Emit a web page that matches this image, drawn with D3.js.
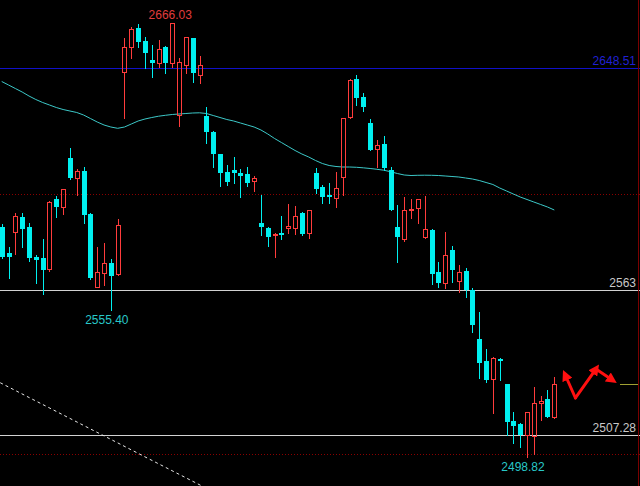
<!DOCTYPE html>
<html>
<head>
<meta charset="utf-8">
<script src="https://cdn.jsdelivr.net/npm/d3@7"></script>
<style>
  body { margin: 0; background: #000; overflow: hidden; }
  svg { display: block; }
</style>
</head>
<body>
<svg class="kchart"></svg>
<script>
var width = 640
var height = 486

// candle data, one entry per bar (left to right)
var opens = [2587.38, 2577.13, 2585.45, 2591.23, 2587.26, 2575.59, 2575.44, 2570.97, 2597.93, 2594.85,
  2613.72, 2606.02, 2608.95, 2592.27, 2564.27, 2569.66, 2573.28, 2569.16, 2647.08, 2656.71,
  2663.80, 2659.02, 2651.59, 2650.32, 2656.71, 2650.32, 2630.40, 2649.66, 2659.95, 2645.81,
  2630.02, 2623.97, 2615.38, 2608.56, 2609.22, 2608.18, 2607.68, 2605.10, 2588.92, 2586.76,
  2584.07, 2584.83, 2586.99, 2586.99, 2592.77, 2584.83, 2608.18, 2602.78, 2599.59, 2598.32,
  2606.64, 2629.52, 2644.27, 2637.22, 2627.44, 2617.31, 2619.12, 2609.22, 2587.15, 2582.64,
  2593.81, 2594.46, 2583.53, 2586.11, 2569.81, 2565.81, 2578.40, 2566.58, 2570.31, 2562.99,
  2544.12, 2535.65, 2528.60, 2536.30, 2526.67, 2512.65, 2511.26, 2507.14, 2506.87, 2519.35,
  2520.89, 2513.96]
var highs = [2588.42, 2579.56, 2592.65, 2592.65, 2588.80, 2576.48, 2582.76, 2597.39, 2599.32, 2602.01,
  2617.58, 2609.60, 2610.26, 2592.65, 2579.44, 2580.98, 2574.82, 2590.23, 2660.18, 2664.18,
  2665.46, 2660.33, 2657.37, 2659.29, 2656.79, 2666.03, 2652.36, 2660.45, 2660.06, 2653.13,
  2633.60, 2624.24, 2615.57, 2611.14, 2614.11, 2609.49, 2610.49, 2606.91, 2599.59, 2587.38,
  2584.83, 2591.50, 2596.12, 2595.35, 2592.85, 2593.89, 2609.87, 2603.44, 2604.09, 2608.56,
  2629.25, 2644.15, 2645.81, 2638.99, 2628.75, 2620.77, 2622.31, 2610.49, 2595.74, 2598.70,
  2597.93, 2598.05, 2599.20, 2586.30, 2573.90, 2585.45, 2579.94, 2572.62, 2571.35, 2563.65,
  2554.64, 2540.15, 2537.30, 2536.92, 2526.79, 2516.12, 2511.65, 2516.00, 2525.52, 2522.16,
  2524.48, 2529.37]
var lows = [2575.32, 2567.62, 2576.86, 2579.56, 2574.28, 2565.81, 2561.34, 2570.43, 2591.00, 2592.15,
  2605.64, 2599.59, 2588.69, 2567.23, 2564.15, 2564.92, 2555.40, 2568.77, 2629.13, 2652.24,
  2656.71, 2648.39, 2645.16, 2649.01, 2646.70, 2649.01, 2626.28, 2646.47, 2643.23, 2642.84,
  2619.50, 2610.49, 2603.05, 2603.44, 2604.09, 2598.93, 2603.05, 2601.24, 2584.18, 2579.94,
  2575.82, 2582.52, 2584.83, 2584.57, 2584.18, 2582.91, 2600.24, 2596.39, 2596.62, 2594.85,
  2599.59, 2629.13, 2634.26, 2632.06, 2616.73, 2610.49, 2609.22, 2593.62, 2573.90, 2581.98,
  2590.61, 2588.69, 2582.91, 2565.31, 2564.27, 2563.65, 2566.19, 2562.34, 2560.41, 2546.93,
  2528.98, 2527.67, 2515.73, 2528.33, 2507.14, 2503.95, 2502.64, 2498.82, 2499.82, 2512.92,
  2514.07, 2513.88]
var closes = [2575.82, 2575.82, 2591.61, 2586.49, 2575.21, 2574.55, 2570.70, 2597.01, 2594.85, 2601.78,
  2606.02, 2608.83, 2591.88, 2567.50, 2570.04, 2573.28, 2568.50, 2588.03, 2656.71, 2663.41,
  2658.64, 2654.40, 2650.32, 2655.71, 2650.32, 2665.96, 2650.93, 2660.33, 2646.47, 2649.66,
  2623.97, 2615.38, 2608.18, 2604.71, 2607.95, 2606.91, 2604.09, 2606.02, 2587.15, 2583.53,
  2584.57, 2584.18, 2587.65, 2591.50, 2584.57, 2593.81, 2601.78, 2598.93, 2598.70, 2602.17,
  2629.13, 2643.88, 2636.84, 2633.60, 2616.92, 2618.85, 2609.87, 2593.81, 2583.53, 2593.81,
  2594.20, 2597.93, 2586.38, 2569.16, 2565.58, 2576.48, 2570.70, 2570.04, 2562.99, 2549.51,
  2534.99, 2528.33, 2536.69, 2535.76, 2512.03, 2510.72, 2507.14, 2515.89, 2519.35, 2520.35,
  2514.19, 2526.79]

// moving average
var maValues = [2643.31, 2641.96, 2640.61, 2639.26, 2637.72, 2636.37, 2635.22, 2634.26, 2633.29, 2632.52,
  2631.94, 2631.37, 2630.40, 2629.06, 2627.71, 2626.55, 2625.78, 2625.28, 2625.78, 2626.94,
  2628.09, 2628.86, 2629.44, 2629.94, 2630.29, 2630.60, 2630.79, 2630.98, 2631.17, 2631.25,
  2630.98, 2630.21, 2629.44, 2628.67, 2628.09, 2627.32, 2626.55, 2625.78, 2624.63, 2623.08,
  2621.35, 2619.81, 2618.27, 2616.73, 2615.38, 2614.23, 2612.88, 2611.72, 2610.95, 2610.57,
  2610.37, 2610.37, 2610.26, 2610.06, 2609.80, 2609.49, 2609.14, 2608.56, 2607.87, 2607.29,
  2607.10, 2607.18, 2607.21, 2607.18, 2607.10, 2606.91, 2606.71, 2606.52, 2606.14, 2605.75,
  2605.17, 2604.40, 2603.63, 2602.28, 2601.13, 2599.97, 2598.82, 2597.85, 2596.89, 2595.93,
  2594.97, 2593.81]

// horizontal levels
var blueLevel = 2648.51
var whiteLevels = [2563, 2507.28]
var whiteLabels = ['2563', '2507.28']
var dottedLevels = [2600, 2500]

// marked extremes: bar index, price text
var highMarks = [{i: 25, text: '2666.03'}]
var lowMarks = [{i: 16, text: '2555.40'}, {i: 77, text: '2498.82'}]

// hand drawn trend line and arrow (bar index / price)
var trendIdx = [-1, 31]
var trendPrice = [2528.33, 2485.28]
var arrowIdx = [82.6, 84.1, 87.1, 89.5]
var arrowPrice = [2530.26, 2521.4, 2532.56, 2528.33]

var upColor = '#ff3c3c'
var downColor = '#00f0f0'
var font = '"Liberation Sans", Arial, sans-serif'

let svg = d3.select('.kchart')
  .attr('width', width)
  .attr('height', height)
  .style('background', '#000')

var x = d3.scaleLinear()
  .domain([0, opens.length - 1])
  .range([1.7, 554.3])

var y = d3.scaleLinear()
  .domain([2487.5, 2674.7])
  .range([height, 0])

function py(p) {
  return Math.round(y(p)) + 0.5
}

svg.append('defs').append('clipPath')
  .attr('id', 'plot')
  .append('rect')
  .attr('width', width)
  .attr('height', height)

// dotted dark red levels
svg.append('g').selectAll('line')
  .data(dottedLevels)
  .enter().append('line')
  .attr('x1', 0).attr('x2', width)
  .attr('y1', py).attr('y2', py)
  .attr('stroke', '#8a0000')
  .attr('stroke-dasharray', '1,2')

// white level lines
svg.append('g').selectAll('line')
  .data(whiteLevels)
  .enter().append('line')
  .attr('x1', 0).attr('x2', width)
  .attr('y1', py).attr('y2', py)
  .attr('stroke', '#d2d2d2')

// blue level
svg.append('line')
  .attr('x1', 0).attr('x2', width)
  .attr('y1', py(blueLevel)).attr('y2', py(blueLevel))
  .attr('stroke', '#1010c8')

// trend line
var trend = d3.range(trendIdx.length).map(i => [x(trendIdx[i]), y(trendPrice[i])])
svg.append('path')
  .attr('clip-path', 'url(#plot)')
  .attr('d', d3.line()(trend))
  .attr('fill', 'none')
  .attr('stroke', '#e6e6e6')
  .attr('stroke-dasharray', '3,3')

// moving average
svg.append('path')
  .datum(maValues)
  .attr('d', d3.line().x((d, i) => x(i)).y(d => y(d)))
  .attr('fill', 'none')
  .attr('stroke', '#3cc8c8')
  .attr('stroke-width', 1)

// candles
var candles = d3.range(opens.length).map(function (i) {
  return {i: i, o: opens[i], h: highs[i], l: lows[i], c: closes[i]}
})

svg.append('g').attr('class', 'candles')
  .selectAll('g')
  .data(candles)
  .enter().append('g')
  .each(function (d) {
    var g = d3.select(this)
    var cx = Math.round(x(d.i)) + 0.5
    var top = Math.round(y(Math.max(d.o, d.c)))
    var bot = Math.round(y(Math.min(d.o, d.c)))
    var hi = Math.round(y(d.h))
    var lo = Math.round(y(d.l))
    if (d.c > d.o) {
      // hollow up candle, wick stops at the body
      g.append('line').attr('x1', cx).attr('x2', cx).attr('y1', hi).attr('y2', top)
        .attr('stroke', upColor)
      g.append('line').attr('x1', cx).attr('x2', cx).attr('y1', bot).attr('y2', lo + 1)
        .attr('stroke', upColor)
      g.append('rect')
        .attr('x', cx - 2).attr('y', top + 0.5)
        .attr('width', 4).attr('height', Math.max(1, bot - top))
        .attr('fill', 'none')
        .attr('stroke', upColor)
    } else {
      g.append('line').attr('x1', cx).attr('x2', cx).attr('y1', hi).attr('y2', lo + 1)
        .attr('stroke', downColor)
      g.append('rect')
        .attr('x', cx - 2.5).attr('y', top)
        .attr('width', 5).attr('height', Math.max(1, bot - top))
        .attr('fill', downColor)
    }
  })

// high / low price marks
svg.append('g').selectAll('text')
  .data(highMarks)
  .enter().append('text')
  .attr('x', d => x(d.i) - 2)
  .attr('y', d => y(highs[d.i]) - 4)
  .attr('text-anchor', 'middle')
  .attr('fill', '#e03c3c')
  .style('font', '12px ' + font)
  .text(d => d.text)

svg.append('g').selectAll('text')
  .data(lowMarks)
  .enter().append('text')
  .attr('x', d => x(d.i) - 4)
  .attr('y', d => y(lows[d.i]) + 14)
  .attr('text-anchor', 'middle')
  .attr('fill', '#28c8c8')
  .style('font', '12px ' + font)
  .text(d => d.text)

// level labels on the right
svg.append('text')
  .attr('x', 636).attr('y', y(blueLevel) - 3)
  .attr('text-anchor', 'end')
  .attr('fill', '#2020d2')
  .style('font', '12px ' + font)
  .text(blueLevel.toFixed(2))

svg.append('g').selectAll('text')
  .data(whiteLevels)
  .enter().append('text')
  .attr('x', 636)
  .attr('y', d => y(d) - 3)
  .attr('text-anchor', 'end')
  .attr('fill', '#c8c8c8')
  .style('font', '12px ' + font)
  .text((d, i) => whiteLabels[i])

// last price tick
var last = closes[closes.length - 1]
svg.append('line')
  .attr('x1', 620).attr('x2', 638)
  .attr('y1', py(last)).attr('y2', py(last))
  .attr('stroke', '#a0a032')

// red arrow sketch
svg.append('defs').append('marker')
  .attr('id', 'head')
  .attr('viewBox', '0 -5 10 10')
  .attr('refX', 5)
  .attr('refY', 0)
  .attr('markerWidth', 3.6)
  .attr('markerHeight', 3.6)
  .attr('orient', 'auto')
  .append('path')
  .attr('d', 'M0,-5L10,0L0,5')
  .attr('fill', '#ff1010')

var arrowPts = d3.range(arrowIdx.length).map(i => [x(arrowIdx[i]), y(arrowPrice[i])])
var arrowSegs = [[1, 0], [1, 2], [2, 3]]
svg.append('g').selectAll('path')
  .data(arrowSegs)
  .enter().append('path')
  .attr('d', s => d3.line()([arrowPts[s[0]], arrowPts[s[1]]]))
  .attr('stroke', '#ff1010')
  .attr('stroke-width', 3)
  .attr('stroke-linecap', 'round')
  .attr('fill', 'none')
  .attr('marker-end', 'url(#head)')

// right border
svg.append('line')
  .attr('x1', 638.5).attr('x2', 638.5)
  .attr('y1', 0).attr('y2', height)
  .attr('stroke', '#7a0000')
</script>
</body>
</html>
